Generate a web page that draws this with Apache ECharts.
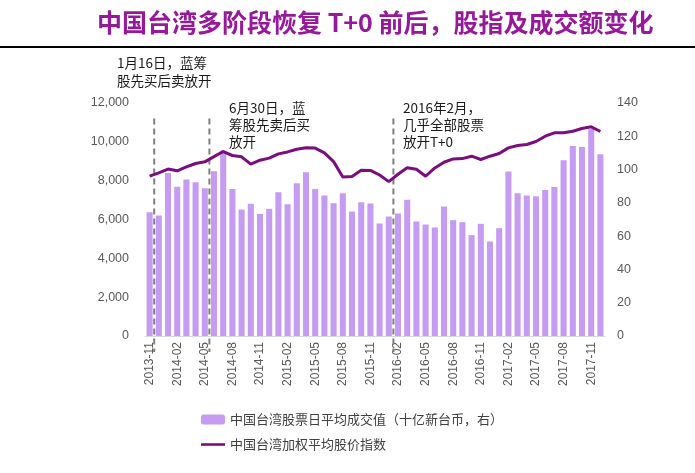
<!DOCTYPE html>
<html>
<head>
<meta charset="utf-8">
<script src="https://cdn.jsdelivr.net/npm/echarts@6/dist/echarts.min.js"></script>
<style>
  html, body { margin: 0; padding: 0; background: #fff; }
  #chart { width: 695px; height: 473px; }
</style>
</head>
<body>
<div id="chart"></div>
<script>
  // months 2013-11 .. 2017-12
  const months = [];
  for (let y = 2013, m = 11; y < 2018; m++) {
    if (m > 12) { m = 1; y++; }
    if (y === 2018) break;
    months.push(y + '-' + (m < 10 ? '0' + m : m));
  }

  // 日平均成交值（十亿新台币，右轴）
  const turnover = [
    74.4, 72.4, 98, 89.7, 94, 92.4, 88.8, 99, 111.5, 88.4,
    76, 79.4, 73.4, 76.4, 86.4, 79.2, 91.8, 98.4, 88.4, 84.4,
    79.8, 85.8, 74.8, 80.4, 79.6, 67.6, 71.8, 73.6, 81.8, 68.8,
    67, 65.2, 77.8, 69.6, 68.4, 60.6, 67.4, 56.8, 64.8, 98.9,
    85.8, 84.4, 84, 87.8, 89.6, 105.6, 114.2, 113.6, 124.4, 109.2
  ];

  // 加权平均股价指数（左轴）
  const taiex = [
    8230, 8405, 8600, 8508, 8714, 8884, 8970, 9240, 9500, 9296,
    9229, 8850, 9054, 9160, 9380, 9480, 9620, 9690, 9680, 9435,
    8980, 8190, 8210, 8540, 8530, 8290, 7950, 8330, 8670, 8590,
    8228, 8656, 8948, 9119, 9136, 9260, 9090, 9260, 9399, 9690,
    9811, 9862, 10017, 10290, 10465, 10465, 10547, 10686, 10773, 10532
  ];

  // 放开时点（月份分界处，按类目序号）
  const eventPos = [1, 7, 27];

  const leftTicks = {min: 0, max: 12000, interval: 2000};
  const rightTicks = {min: 0, max: 140, interval: 20};

  const barName = '中国台湾股票日平均成交值（十亿新台币，右）';
  const lineName = '中国台湾加权平均股价指数';

  const font = '"Noto Sans CJK SC", "Noto Sans", sans-serif';
  const numFont = '"Liberation Sans", Arial, sans-serif';
  const gray = '#595959';

  const chart = echarts.init(document.getElementById('chart'));

  const option = {
    animation: false,
    textStyle: {fontFamily: font},
    title: {
      text: '中国台湾多阶段恢复 T+0 前后，股指及成交额变化',
      left: 92,
      top: 5,
      textStyle: {fontSize: 25, fontWeight: 'bold', color: '#97189A', fontFamily: font}
    },
    legend: {
      orient: 'vertical',
      left: 196,
      top: 408,
      itemWidth: 24,
      itemHeight: 10,
      itemGap: 12,
      textStyle: {fontSize: 13, color: '#404040', fontFamily: font},
      data: [barName, {name: lineName, icon: 'path://M0,0 L24,0 L24,2.6 L0,2.6 Z'}]
    },
    grid: {left: 145, right: 90, top: 103, bottom: 137},
    xAxis: [{
      type: 'category',
      data: months,
      axisLine: {lineStyle: {color: '#d9d9d9'}},
      axisTick: {show: false},
      axisLabel: {
        rotate: 90,
        interval: 2,
        fontSize: 12,
        color: gray,
        margin: 6,
        fontFamily: numFont
      }
    }, {
      type: 'value',
      min: 0,
      max: months.length,
      show: false
    }],
    yAxis: [{
      type: 'value',
      min: leftTicks.min,
      max: leftTicks.max,
      interval: leftTicks.interval,
      splitLine: {show: false},
      axisLine: {show: false},
      axisTick: {show: false},
      axisLabel: {
        fontSize: 12.5,
        color: gray,
        margin: 16,
        fontFamily: numFont,
        formatter: (v) => v.toLocaleString('en-US')
      }
    }, {
      type: 'value',
      min: rightTicks.min,
      max: rightTicks.max,
      interval: rightTicks.interval,
      splitLine: {show: false},
      axisLine: {show: false},
      axisTick: {show: false},
      axisLabel: {
        fontSize: 12.5,
        color: gray,
        margin: 12,
        fontFamily: numFont
      }
    }],
    series: [{
      name: barName,
      type: 'bar',
      yAxisIndex: 1,
      barWidth: '66%',
      itemStyle: {color: '#C69BF2'},
      data: turnover,
      z: 2
    }, {
      name: lineName,
      type: 'line',
      yAxisIndex: 0,
      symbol: 'none',
      lineStyle: {color: '#7A0E7E', width: 3},
      itemStyle: {color: '#7A0E7E'},
      data: taiex,
      z: 4
    }, {
      // dashed event markers at month boundaries
      type: 'custom',
      xAxisIndex: 1,
      yAxisIndex: 0,
      silent: true,
      clip: false,
      z: 3,
      data: eventPos.map(p => [p]),
      renderItem: (params, api) => {
        const x = api.coord([api.value(0), 0])[0];
        const top = api.coord([api.value(0), 11200])[1];
        const bottom = api.coord([api.value(0), 0])[1] + 16;
        return {
          type: 'line',
          shape: {x1: x, y1: top, x2: x, y2: bottom},
          style: {stroke: '#7f7f7f', lineWidth: 2, lineDash: [6, 4]}
        };
      }
    }],
    graphic: [{
      type: 'line',
      shape: {x1: 0, y1: 47, x2: 695, y2: 47},
      style: {stroke: '#000', lineWidth: 2}
    }, {
      type: 'text',
      left: 117,
      top: 54,
      style: {
        text: '1月16日，蓝筹\n股先买后卖放开',
        font: '13.5px ' + font,
        fill: '#1a1a1a',
        lineHeight: 18
      }
    }, {
      type: 'text',
      left: 229,
      top: 99,
      style: {
        text: '6月30日，蓝\n筹股先卖后买\n放开',
        font: '13.5px ' + font,
        fill: '#1a1a1a',
        lineHeight: 17
      }
    }, {
      type: 'text',
      left: 403,
      top: 99,
      style: {
        text: '2016年2月，\n几乎全部股票\n放开T+0',
        font: '13.5px ' + font,
        fill: '#1a1a1a',
        lineHeight: 17
      }
    }]
  };

  chart.setOption(option);
</script>
</body>
</html>
